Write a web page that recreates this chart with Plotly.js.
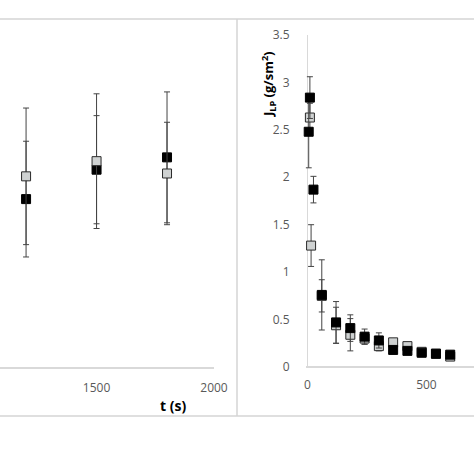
<!DOCTYPE html>
<html>
<head>
<meta charset="utf-8">
<script src="https://cdn.plot.ly/plotly-3.0.1.min.js"></script>
<style>
  html, body { margin: 0; padding: 0; background: #fff; }
  #chart { width: 474px; height: 474px; }
</style>
</head>
<body>
<div id="chart"></div>
<script>
// Left panel (long times), only the tail is visible
const tLeft = [1200, 1500, 1800];
const blackLeft = [1.77, 2.08, 2.21];
const blackLeftErr = [0.61, 0.57, 0.69];
const grayLeft = [2.01, 2.17, 2.04];
const grayLeftErr = [0.72, 0.71, 0.54];

// Right panel, J_LP against time
const tBlack = [5, 10, 25, 60, 120, 180, 240, 300, 360, 420, 480, 540, 600];
const jBlack = [2.48, 2.84, 1.87, 0.76, 0.47, 0.41, 0.32, 0.28, 0.18, 0.17, 0.15, 0.14, 0.13];
const jBlackErr = [0.38, 0.22, 0.14, 0.37, 0.22, 0.14, 0.08, 0.08, 0.04, 0.03, 0.02, 0.02, 0.02];
const tGray = [10, 15, 60, 120, 180, 240, 300, 360, 420, 480, 540, 600];
const jGray = [2.63, 1.28, 0.75, 0.44, 0.34, 0.30, 0.22, 0.26, 0.22, 0.16, 0.14, 0.11];
const jGrayErr = [0.15, 0.22, 0.17, 0.19, 0.17, 0.06, 0.05, 0.04, 0.03, 0.02, 0.02, 0.02];

const W = 474, H = 474;
const px = v => v / W;          // pixel -> paper x
const py = v => 1 - v / H;      // pixel -> paper y

const font = '"Open Sans", "Noto Sans", sans-serif';
const errStyle = { type: 'data', color: '#444', thickness: 1, width: 3 };
const blackMarker = { symbol: 'square', size: 9, color: '#000', line: { color: '#000', width: 1 } };
const grayMarker = { symbol: 'square', size: 9, color: '#cfd2d2', line: { color: '#2a2a2a', width: 1 } };

function series(x, y, err, marker, xa, ya) {
    return {
        x: x, y: y, type: 'scatter', mode: 'markers',
        marker: marker,
        error_y: Object.assign({ array: err }, errStyle),
        xaxis: xa, yaxis: ya,
        cliponaxis: false, hoverinfo: 'skip'
    };
}

const data = [
    // left: gray drawn on top
    series(tLeft, blackLeft, blackLeftErr, blackMarker, 'x', 'y'),
    series(tLeft, grayLeft, grayLeftErr, grayMarker, 'x', 'y'),
    // right: black drawn on top
    series(tGray, jGray, jGrayErr, grayMarker, 'x2', 'y2'),
    series(tBlack, jBlack, jBlackErr, blackMarker, 'x2', 'y2')
];

const tickFont = { family: font, size: 12, color: '#595959' };
const axisLine = '#d9d9d9';
const yDomain = [py(367), py(35)];

// right x axis: 0 sits at 307.5px, 500 units per 117.7px
const xr0 = -8, xr1 = 700;
const right0 = 307.5 + xr0 * 117.7 / 500;

const layout = {
    width: W, height: H,
    margin: { l: 0, r: 0, t: 0, b: 0 },
    paper_bgcolor: '#fff', plot_bgcolor: 'rgba(0,0,0,0)',
    showlegend: false,
    font: { family: font },
    xaxis: {
        domain: [0, px(214)], range: [1089, 2000],
        tickvals: [1000, 1500, 2000], ticks: '', ticklabelstandoff: 9,
        showgrid: false, zeroline: false,
        showline: true, linecolor: axisLine, linewidth: 1.5,
        tickfont: tickFont, anchor: 'y', fixedrange: true
    },
    yaxis: {
        domain: yDomain, range: [0, 3.5],
        visible: false, anchor: 'x', fixedrange: true
    },
    xaxis2: {
        domain: [px(right0), 1], range: [xr0, xr1],
        dtick: 500, ticks: '', ticklabelstandoff: 9,
        showgrid: false, showline: false,
        zeroline: true, zerolinecolor: axisLine, zerolinewidth: 1.5,
        tickfont: tickFont, anchor: 'y2', fixedrange: true
    },
    yaxis2: {
        domain: yDomain, range: [0, 3.5],
        dtick: 0.5, ticks: '', ticklabelstandoff: 15,
        showgrid: false, showline: false,
        zeroline: true, zerolinecolor: axisLine, zerolinewidth: 1.5,
        tickfont: tickFont, anchor: 'x2', fixedrange: true
    },
    shapes: [
        // frame lines of the two panels
        { type: 'line', xref: 'paper', yref: 'paper', x0: 0, x1: 1, y0: py(19), y1: py(19), line: { color: '#d4d4d4', width: 1.5 } },
        { type: 'line', xref: 'paper', yref: 'paper', x0: 0, x1: 1, y0: py(416), y1: py(416), line: { color: '#d4d4d4', width: 1.5 } },
        { type: 'line', xref: 'paper', yref: 'paper', x0: px(237), x1: px(237), y0: py(19), y1: py(416), line: { color: '#d4d4d4', width: 1.5 } }
    ],
    annotations: [
        {
            text: '<b>t (s)</b>', xref: 'paper', yref: 'paper',
            x: px(173), y: py(405), xanchor: 'center', yanchor: 'middle', showarrow: false,
            font: { family: font, size: 14, color: '#000' }
        },
        {
            text: '<b>J<sub>LP</sub> (g/sm<sup>2</sup>)</b>', xref: 'paper', yref: 'paper',
            x: px(268), y: py(84), xanchor: 'center', yanchor: 'middle', showarrow: false, textangle: -90,
            font: { family: font, size: 13, color: '#000' }
        }
    ]
};

Plotly.newPlot('chart', data, layout, { staticPlot: true });
</script>
</body>
</html>
